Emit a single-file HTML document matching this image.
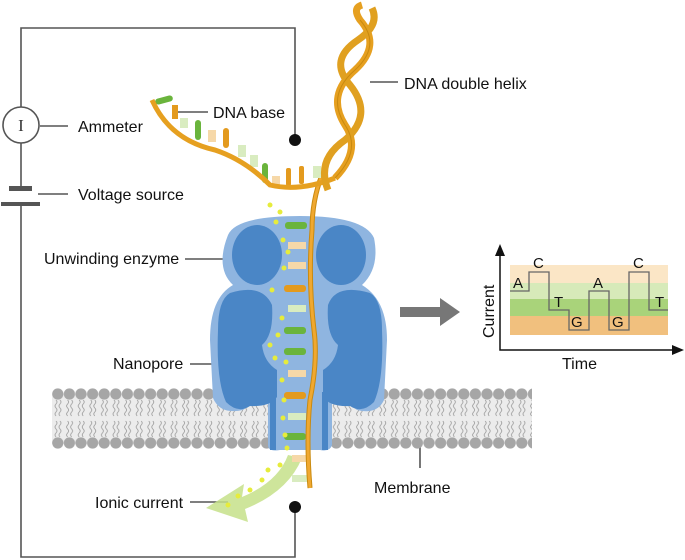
<!DOCTYPE html>
<html><head><meta charset="utf-8"><style>
html,body{margin:0;padding:0;background:#fff;}
svg{display:block;font-family:"Liberation Sans",sans-serif;}
</style></head><body>
<svg width="685" height="560" viewBox="0 0 685 560" xmlns="http://www.w3.org/2000/svg">
<defs>
<pattern id="heads" x="52" y="0" width="11.6" height="560" patternUnits="userSpaceOnUse">
<circle cx="5.8" cy="394" r="5.6" fill="#a6a6a6"/>
<circle cx="5.8" cy="443" r="5.6" fill="#a6a6a6"/>
<path d="M4 400 q2 2 0 4 q-2 2 0 4 q2 2 0 4 q-2 2 0 4 M8 400 q2 2 0 4 q-2 2 0 4 q2 2 0 4 q-2 2 0 4 M4 421 q2 2 0 4 q-2 2 0 4 q2 2 0 4 q-2 2 0 4 M8 421 q2 2 0 4 q-2 2 0 4 q2 2 0 4 q-2 2 0 4" stroke="#9a9a9a" stroke-width="0.8" fill="none"/>
</pattern>
</defs>
<!-- circuit -->
<g stroke="#555" stroke-width="1.6" fill="none">
<path d="M21 107 V28 H295 V140"/>
<path d="M21 143 V188"/>
<path d="M21 205 V557 H295 V507"/>
<circle cx="21" cy="125" r="18" fill="#fff"/>
<path d="M40 126 H68 M38 194 H68 M172 112 H208 M370 82 H398 M185 259 H266 M190 364 H282 M420 424 V468 M190 502 H228"/>
</g>
<text x="21" y="131" font-size="17" text-anchor="middle" fill="#333" font-family="Liberation Serif,serif">I</text>
<rect x="9" y="186" width="23" height="5" fill="#555"/>
<rect x="1" y="202" width="39" height="4" fill="#555"/>
<circle cx="295" cy="140" r="6" fill="#111"/>
<circle cx="295" cy="507" r="6" fill="#111"/>
<!-- membrane -->
<rect x="52" y="394" width="480" height="50" fill="#ececec"/>
<rect x="52" y="385" width="480" height="66" fill="url(#heads)"/>
<!-- protein -->
<path d="M228 235 Q236 216 300 216 Q364 216 374 238 Q380 268 362 285 Q387 300 387 340 L384 400 Q377 415 357 410 L332 392 L332 445 Q330 452 320 450 L280 450 Q268 452 268 445 L268 392 L243 410 Q220 415 213 398 L210 340 Q210 298 233 285 Q215 268 228 235Z" fill="#8fb5e0"/>
<ellipse cx="257" cy="255" rx="25" ry="30" fill="#4a86c6"/>
<ellipse cx="341" cy="255" rx="25" ry="30" fill="#4a86c6"/>
<path d="M230 293 Q262 283 272 305 Q274 335 262 345 Q264 362 277 370 L277 397 Q270 407 250 406 Q238 414 226 402 Q216 380 218 330 Q218 300 230 293Z" fill="#4a86c6"/>
<path d="M370 293 Q336 283 328 305 Q326 335 338 345 Q336 362 323 370 L323 397 Q330 407 350 406 Q362 414 374 402 Q384 380 382 330 Q382 300 370 293Z" fill="#4a86c6"/>
<rect x="270" y="392" width="6" height="58" fill="#4a86c6"/>
<rect x="322" y="392" width="6" height="58" fill="#4a86c6"/>
<!-- ionic current arrow -->
<path d="M288 455 Q278 482 242 497 L244 484 L206 508 L248 522 L245 509 Q288 492 302 458Z" fill="#c5e08a" opacity="0.85"/>
<!-- bases in pore -->
<g>
<rect x="285" y="222" width="22" height="7" rx="3" fill="#6ab43c"/>
<rect x="288" y="242" width="18" height="7" fill="#f6d8a8"/>
<rect x="288" y="262" width="18" height="7" fill="#f6d8a8"/>
<rect x="284" y="285" width="22" height="7" rx="3" fill="#e39a1e"/>
<rect x="288" y="305" width="18" height="7" fill="#d9ecc0"/>
<rect x="284" y="327" width="22" height="7" rx="3" fill="#6ab43c"/>
<rect x="284" y="348" width="22" height="7" rx="3" fill="#6ab43c"/>
<rect x="288" y="370" width="18" height="7" fill="#f6d8a8"/>
<rect x="284" y="392" width="22" height="7" rx="3" fill="#e39a1e"/>
<rect x="288" y="413" width="18" height="7" fill="#d9ecc0"/>
<rect x="284" y="433" width="22" height="7" rx="3" fill="#6ab43c"/>
<rect x="292" y="455" width="16" height="7" fill="#f6d8a8"/>
<rect x="292" y="475" width="16" height="7" fill="#d9ecc0"/>
</g>
<!-- yellow dots -->
<g fill="#e6ec3c">
<circle cx="270" cy="205" r="2.5"/><circle cx="280" cy="212" r="2.5"/><circle cx="276" cy="222" r="2.5"/>
<circle cx="283" cy="240" r="2.5"/><circle cx="288" cy="252" r="2.5"/><circle cx="284" cy="268" r="2.5"/>
<circle cx="272" cy="290" r="2.5"/><circle cx="282" cy="318" r="2.5"/><circle cx="278" cy="335" r="2.5"/>
<circle cx="270" cy="345" r="2.5"/><circle cx="275" cy="358" r="2.5"/><circle cx="286" cy="362" r="2.5"/>
<circle cx="282" cy="380" r="2.5"/><circle cx="284" cy="400" r="2.5"/><circle cx="283" cy="418" r="2.5"/>
<circle cx="285" cy="435" r="2.5"/><circle cx="287" cy="448" r="2.5"/><circle cx="280" cy="465" r="2.5"/>
<circle cx="262" cy="480" r="2.5"/><circle cx="250" cy="490" r="2.5"/><circle cx="238" cy="496" r="2.5"/><circle cx="228" cy="505" r="2.5"/><circle cx="268" cy="470" r="2.5"/>
</g>
<!-- DNA strand through pore -->
<path d="M322 175 Q312 200 312 230 Q308 280 314 330 Q318 360 310 400 Q306 440 310 488" stroke="#c98a10" stroke-width="5" fill="none"/>
<path d="M322 175 Q312 200 312 230 Q308 280 314 330 Q318 360 310 400 Q306 440 310 488" stroke="#f0a830" stroke-width="3" fill="none"/>
<!-- single strand with bases -->
<g>
<rect x="155" y="97" width="18" height="6" rx="3" fill="#6ab43c" transform="rotate(-15 164 100)"/>
<rect x="172" y="105" width="6" height="14" fill="#e39a1e"/>
<rect x="180" y="118" width="8" height="10" fill="#d9ecc0"/>
<rect x="195" y="120" width="6" height="20" rx="3" fill="#6ab43c"/>
<rect x="208" y="130" width="8" height="12" fill="#f6d8a8"/>
<rect x="223" y="128" width="6" height="20" rx="3" fill="#e39a1e"/>
<rect x="238" y="145" width="8" height="12" fill="#d9ecc0"/>
<rect x="250" y="155" width="8" height="12" fill="#d9ecc0"/>
<rect x="262" y="163" width="6" height="20" rx="3" fill="#6ab43c"/>
<rect x="272" y="176" width="8" height="12" fill="#f6d8a8"/>
<rect x="286" y="168" width="5" height="18" rx="2" fill="#e39a1e"/>
<rect x="299" y="166" width="5" height="18" rx="2" fill="#e39a1e"/>
<rect x="313" y="166" width="8" height="12" fill="#d9ecc0"/>
</g>
<path d="M152 100 Q170 140 215 150 Q245 160 270 185 Q300 192 335 178" stroke="#e6a020" stroke-width="5" fill="none"/>
<!-- helix -->
<path d="M335 178 Q362 150 345 125 Q326 95 355 70 Q382 45 360 20 Q352 8 362 5" stroke="#e6a020" stroke-width="7" fill="none"/>
<path d="M328 190 Q316 160 345 140 Q374 115 350 85 Q328 60 358 40 Q380 25 372 8" stroke="#e0a020" stroke-width="7" fill="none"/>
<path d="M335 178 Q362 150 345 125 Q326 95 355 70 Q382 45 360 20" stroke="#c98a10" stroke-width="1" fill="none"/>
<!-- gray arrow -->
<path d="M400 307 H440 V298 L460 312 L440 326 V317 H400Z" fill="#777"/>
<!-- graph -->
<rect x="510" y="265" width="158" height="18" fill="#fbe6c6"/>
<rect x="510" y="283" width="158" height="16" fill="#d7eab9"/>
<rect x="510" y="299" width="158" height="17" fill="#a9d37a"/>
<rect x="510" y="316" width="158" height="19" fill="#f1c07e"/>
<path d="M510 291 H529 V272 H549 V310 H569 V330 H589 V291 H609 V330 H629 V272 H649 V310 H668" stroke="#666" stroke-width="1.3" fill="none"/>
<g font-size="15" fill="#111">
<text x="513" y="288">A</text><text x="533" y="268">C</text><text x="554" y="307">T</text>
<text x="571" y="327">G</text><text x="593" y="288">A</text><text x="612" y="327">G</text>
<text x="633" y="268">C</text><text x="655" y="307">T</text>
</g>
<path d="M500 250 V350 H676" stroke="#111" stroke-width="1.5" fill="none"/>
<path d="M495 256 L500 244 L505 256Z M672 345 L684 350 L672 355Z" fill="#111"/>
<text x="562" y="369" font-size="16" fill="#111">Time</text>
<text x="0" y="0" font-size="16" fill="#111" transform="translate(494 338) rotate(-90)">Current</text>
<!-- labels -->
<g font-size="16" fill="#111">
<text x="78" y="132">Ammeter</text>
<text x="78" y="200">Voltage source</text>
<text x="213" y="118">DNA base</text>
<text x="404" y="89">DNA double helix</text>
<text x="44" y="264">Unwinding enzyme</text>
<text x="113" y="369">Nanopore</text>
<text x="374" y="493">Membrane</text>
<text x="95" y="508">Ionic current</text>
</g>
</svg>
</body></html>
